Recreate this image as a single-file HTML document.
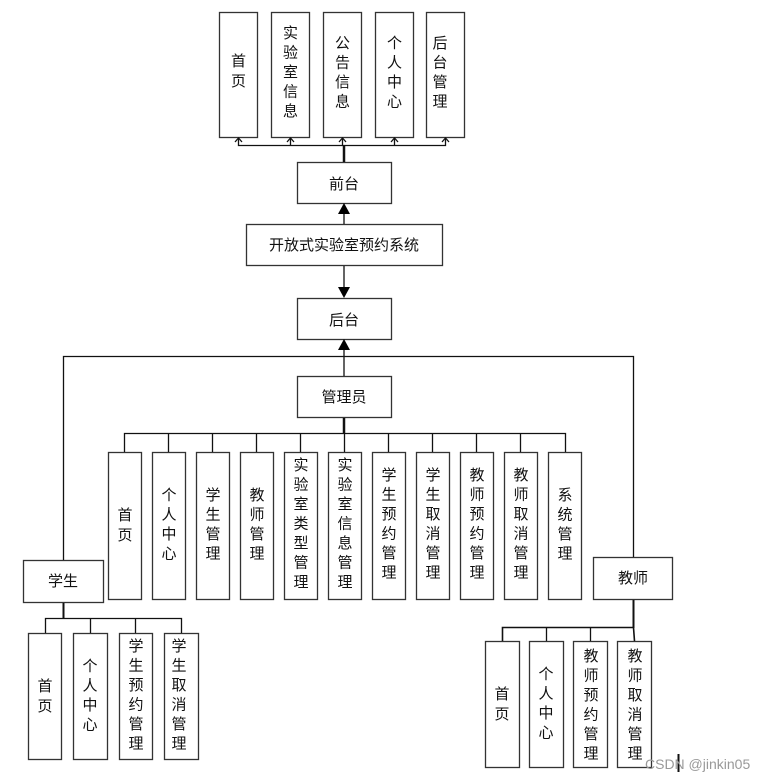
<!DOCTYPE html>
<html><head><meta charset="utf-8"><style>
html,body{margin:0;padding:0;background:#fff;}
svg{display:block;}
text{font-family:"Liberation Sans","Noto Sans CJK SC","WenQuanYi Zen Hei",sans-serif;font-size:15px;fill:#111;}
</style></head><body>
<svg width="759" height="781" viewBox="0 0 759 781" xmlns="http://www.w3.org/2000/svg">
<defs>
<marker id="ar" markerWidth="10" markerHeight="10" refX="5" refY="10" orient="auto" markerUnits="userSpaceOnUse"><path d="M0,0 L10,0 L5,10 z" fill="#000" transform="rotate(0)"/></marker>
</defs>
<g fill="none" stroke="#333" stroke-width="1.3">
<!-- top boxes -->
<rect x="219.5" y="12.5" width="38" height="125"/>
<rect x="271.5" y="12.5" width="38" height="125"/>
<rect x="323.5" y="12.5" width="38" height="125"/>
<rect x="375.5" y="12.5" width="38" height="125"/>
<rect x="426.5" y="12.5" width="38" height="125"/>
<rect x="297.5" y="162.5" width="94" height="41"/>
<rect x="246.5" y="224.5" width="196" height="41"/>
<rect x="297.5" y="298.5" width="94" height="41"/>
<rect x="297.5" y="376.5" width="94" height="41"/>
<!-- admin boxes -->
<rect x="108.5" y="452.5" width="33" height="147"/>
<rect x="152.5" y="452.5" width="33" height="147"/>
<rect x="196.5" y="452.5" width="33" height="147"/>
<rect x="240.5" y="452.5" width="33" height="147"/>
<rect x="284.5" y="452.5" width="33" height="147"/>
<rect x="328.5" y="452.5" width="33" height="147"/>
<rect x="372.5" y="452.5" width="33" height="147"/>
<rect x="416.5" y="452.5" width="33" height="147"/>
<rect x="460.5" y="452.5" width="33" height="147"/>
<rect x="504.5" y="452.5" width="33" height="147"/>
<rect x="548.5" y="452.5" width="33" height="147"/>
<!-- student -->
<rect x="23.5" y="560.5" width="80" height="42"/>
<rect x="28.5" y="633.5" width="33" height="126"/>
<rect x="73.5" y="633.5" width="34" height="126"/>
<rect x="119.5" y="633.5" width="33" height="126"/>
<rect x="164.5" y="633.5" width="34" height="126"/>
<!-- teacher -->
<rect x="593.5" y="557.5" width="79" height="42"/>
<rect x="485.5" y="641.5" width="34" height="126"/>
<rect x="529.5" y="641.5" width="34" height="126"/>
<rect x="573.5" y="641.5" width="34" height="126"/>
<rect x="617.5" y="641.5" width="34" height="126"/>
</g>
<g fill="none" stroke="#111" stroke-width="1.3">
<!-- top bus -->
<path d="M238.5,138 V145.5 H445.5 V138"/>
<path d="M290.5,138 V145.5 M342.5,138 V145.5 M394.5,138 V145.5"/>
<path d="M344,145 V162" stroke-width="2.5"/>
<path d="M235,142 L238.5,138 L242,142 M287,142 L290.5,138 L294,142 M339,142 L342.5,138 L346,142 M391,142 L394.5,138 L398,142 M442,142 L445.5,138 L449,142"/>
<!-- system arrows -->
<path d="M344,224 V214"/>
<path d="M344,266 V288"/>
<!-- admin -->
<path d="M344,376 V350"/>
<path d="M63.5,560 V356.5 H633.5 V557"/>
<path d="M344,418 V433" stroke-width="2.5"/>
<path d="M124.5,452 V433.5 H565.5 V452"/>
<path d="M168.5,433 V452 M212.5,433 V452 M256.5,433 V452 M300.5,433 V452 M344.5,433 V452 M388.5,433 V452 M432.5,433 V452 M476.5,433 V452 M520.5,433 V452"/>
<!-- student bus -->
<path d="M63.5,603 V618" stroke-width="2"/>
<path d="M45.5,633 V618.5 H181.5 V633"/>
<path d="M90.5,618 V633 M135.5,618 V633"/>
<!-- teacher bus -->
<path d="M633.5,600 V628" stroke-width="2"/>
<path d="M502.5,641 V627.5 H633.5 L634.5,641" stroke-width="1.6"/>
<path d="M546.5,627 V641 M590.5,627 V641"/>
<path d="M678.5,754 V772" stroke-width="2"/>
</g>
<g fill="#000">
<path d="M338,214 L350,214 L344,203 z"/>
<path d="M338,287 L350,287 L344,298 z"/>
<path d="M338,350 L350,350 L344,339 z"/>
</g>
<g text-anchor="middle">
<text x="238.5" y="66">首<tspan x="238.5" dy="20">页</tspan></text>
<text x="290.5" y="38">实<tspan x="290.5" dy="19.5">验</tspan><tspan x="290.5" dy="19.5">室</tspan><tspan x="290.5" dy="19.5">信</tspan><tspan x="290.5" dy="19.5">息</tspan></text>
<text x="342.5" y="48">公<tspan x="342.5" dy="19.5">告</tspan><tspan x="342.5" dy="19.5">信</tspan><tspan x="342.5" dy="19.5">息</tspan></text>
<text x="394.5" y="48">个<tspan x="394.5" dy="19.5">人</tspan><tspan x="394.5" dy="19.5">中</tspan><tspan x="394.5" dy="19.5">心</tspan></text>
<text x="440" y="48">后<tspan x="440" dy="19.5">台</tspan><tspan x="440" dy="19.5">管</tspan><tspan x="440" dy="19.5">理</tspan></text>
<text x="344" y="189">前台</text>
<text x="344" y="250">开放式实验室预约系统</text>
<text x="344" y="325">后台</text>
<text x="344" y="402">管理员</text>

<text x="125" y="520">首<tspan x="125" dy="20">页</tspan></text>
<text x="169" y="500">个<tspan x="169" dy="19.5">人</tspan><tspan x="169" dy="19.5">中</tspan><tspan x="169" dy="19.5">心</tspan></text>
<text x="213" y="500">学<tspan x="213" dy="19.5">生</tspan><tspan x="213" dy="19.5">管</tspan><tspan x="213" dy="19.5">理</tspan></text>
<text x="257" y="500">教<tspan x="257" dy="19.5">师</tspan><tspan x="257" dy="19.5">管</tspan><tspan x="257" dy="19.5">理</tspan></text>
<text x="301" y="470">实<tspan x="301" dy="19.5">验</tspan><tspan x="301" dy="19.5">室</tspan><tspan x="301" dy="19.5">类</tspan><tspan x="301" dy="19.5">型</tspan><tspan x="301" dy="19.5">管</tspan><tspan x="301" dy="19.5">理</tspan></text>
<text x="345" y="470">实<tspan x="345" dy="19.5">验</tspan><tspan x="345" dy="19.5">室</tspan><tspan x="345" dy="19.5">信</tspan><tspan x="345" dy="19.5">息</tspan><tspan x="345" dy="19.5">管</tspan><tspan x="345" dy="19.5">理</tspan></text>
<text x="389" y="480">学<tspan x="389" dy="19.5">生</tspan><tspan x="389" dy="19.5">预</tspan><tspan x="389" dy="19.5">约</tspan><tspan x="389" dy="19.5">管</tspan><tspan x="389" dy="19.5">理</tspan></text>
<text x="433" y="480">学<tspan x="433" dy="19.5">生</tspan><tspan x="433" dy="19.5">取</tspan><tspan x="433" dy="19.5">消</tspan><tspan x="433" dy="19.5">管</tspan><tspan x="433" dy="19.5">理</tspan></text>
<text x="477" y="480">教<tspan x="477" dy="19.5">师</tspan><tspan x="477" dy="19.5">预</tspan><tspan x="477" dy="19.5">约</tspan><tspan x="477" dy="19.5">管</tspan><tspan x="477" dy="19.5">理</tspan></text>
<text x="521" y="480">教<tspan x="521" dy="19.5">师</tspan><tspan x="521" dy="19.5">取</tspan><tspan x="521" dy="19.5">消</tspan><tspan x="521" dy="19.5">管</tspan><tspan x="521" dy="19.5">理</tspan></text>
<text x="565" y="500">系<tspan x="565" dy="19.5">统</tspan><tspan x="565" dy="19.5">管</tspan><tspan x="565" dy="19.5">理</tspan></text>

<text x="63" y="586">学生</text>
<text x="45" y="691">首<tspan x="45" dy="20">页</tspan></text>
<text x="90" y="671">个<tspan x="90" dy="19.5">人</tspan><tspan x="90" dy="19.5">中</tspan><tspan x="90" dy="19.5">心</tspan></text>
<text x="136" y="651">学<tspan x="136" dy="19.5">生</tspan><tspan x="136" dy="19.5">预</tspan><tspan x="136" dy="19.5">约</tspan><tspan x="136" dy="19.5">管</tspan><tspan x="136" dy="19.5">理</tspan></text>
<text x="179" y="651">学<tspan x="179" dy="19.5">生</tspan><tspan x="179" dy="19.5">取</tspan><tspan x="179" dy="19.5">消</tspan><tspan x="179" dy="19.5">管</tspan><tspan x="179" dy="19.5">理</tspan></text>

<text x="633" y="583">教师</text>
<text x="502" y="699">首<tspan x="502" dy="20">页</tspan></text>
<text x="546" y="679">个<tspan x="546" dy="19.5">人</tspan><tspan x="546" dy="19.5">中</tspan><tspan x="546" dy="19.5">心</tspan></text>
<text x="591" y="661">教<tspan x="591" dy="19.5">师</tspan><tspan x="591" dy="19.5">预</tspan><tspan x="591" dy="19.5">约</tspan><tspan x="591" dy="19.5">管</tspan><tspan x="591" dy="19.5">理</tspan></text>
<text x="635" y="661">教<tspan x="635" dy="19.5">师</tspan><tspan x="635" dy="19.5">取</tspan><tspan x="635" dy="19.5">消</tspan><tspan x="635" dy="19.5">管</tspan><tspan x="635" dy="19.5">理</tspan></text>
</g>
<text x="645" y="769" style="font-size:14px;fill:#999;">CSDN @jinkin05</text>
</svg>
</body></html>
